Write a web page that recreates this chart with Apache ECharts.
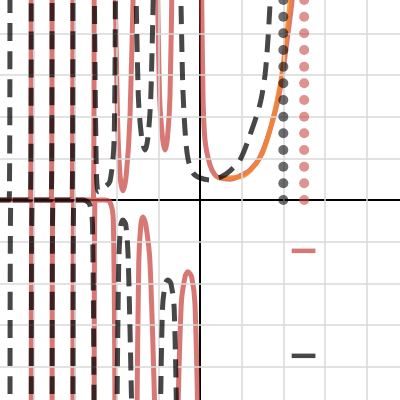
<!DOCTYPE html>
<html><head><meta charset="utf-8">
<script src="https://cdn.jsdelivr.net/npm/echarts@6/dist/echarts.min.js"></script>
<style>html,body{margin:0;padding:0;background:#fff}#c{width:400px;height:400px}</style>
</head><body><div id="c"></div>
<script>
const gridTicks = [-4,-3,-2,-1,1,2,3,4];
const redPoles = [-4.05,-3.55,-3.05,-2.54];
const blackPoles = [-4.56,-4.05,-3.55,-3.05];
const redTail = [[-2.3,0],[-2.16,-0.05],[-2.08,-0.5],[-2.04,-6],null,
 [-2.05,6],[-1.98,2],[-1.92,0.6],[-1.85,0.22],[-1.77,0.6],[-1.68,2],[-1.58,6],null,
 [-1.52,-6],[-1.47,-1.5],[-1.42,-0.6],[-1.37,-0.41],[-1.3,-0.6],[-1.2,-1.5],[-1.06,-6],null,
 [-1.03,6],[-0.97,2.5],[-0.9,1.5],[-0.84,1.2],[-0.78,1.5],[-0.72,2.5],[-0.66,6],null,
 [-0.55,-6],[-0.45,-2.5],[-0.36,-1.85],[-0.29,-1.72],[-0.2,-1.85],[-0.12,-2.5],[-0.04,-6],null,
 [0.03,6],[0.07,2.6],[0.12,1.44],[0.24,0.84],[0.36,0.6],[0.48,0.53],[0.72,0.5],[0.96,0.58],[1.2,0.72],[1.44,1.03],[1.68,1.68],[1.92,2.64],[2.09,3.84],[2.21,4.8],[2.25,5.5]];
const blackTail = [[-2.8,0],[-2.65,-0.1],[-2.58,-0.6],[-2.54,-6],null,
 [-2.54,6],[-2.5,1.5],[-2.44,0.2],[-2.3,0.3],[-2.16,0.45],[-2.06,1.5],[-2.03,6],null,
 [-2.0,-6],[-1.95,-1.5],[-1.9,-0.6],[-1.85,-0.48],[-1.78,-0.6],[-1.72,-1.5],[-1.62,-6],null,
 [-1.55,6],[-1.48,2.5],[-1.4,1.5],[-1.32,1.2],[-1.25,1.5],[-1.18,2.5],[-1.1,6],null,
 [-0.96,-6],[-0.9,-2.6],[-0.83,-2.0],[-0.77,-1.92],[-0.7,-2.0],[-0.62,-2.6],[-0.55,-6],null,
 [-0.48,6],[-0.44,3.9],[-0.41,2.64],[-0.36,1.68],[-0.29,1.0],[-0.17,0.65],[0,0.53],[0.24,0.48],[0.5,0.55],[0.72,0.7],[0.96,0.96],[1.2,1.56],[1.44,2.3],[1.56,3.0],[1.63,3.84],[1.68,4.7],[1.72,5.5]];
const orangeLine = [[0.41,0.53],[0.96,0.55],[1.44,1.0],[1.68,1.68],[1.92,2.76],[2.06,3.84],[2.16,4.8]];
const dotYs = [0,0.4,0.8,1.2,1.6,2.0,2.4,2.8,3.2,3.6,4.0,4.4,4.8];
const blackDotX = 2, redDotX = 2.5;
const redKey = [[2.2,-1.22],[2.77,-1.22]];
const blackKey = [[2.2,-3.74],[2.77,-3.74]];

function poles(list){const out=[[-4.8,0]];list.forEach(p=>{out.push([p-0.02,0],[p,6],null,[p,-6],[p+0.02,0]);});return out;}
const redData = poles(redPoles).concat(redTail);
const blackData = poles(blackPoles).concat(blackTail);
const RED='rgba(199,68,64,0.72)', BLK='rgba(0,0,0,0.72)';
const gl = {color:'#d8d8d8',width:1.5,type:'solid'};
const chart = echarts.init(document.getElementById('c'));
chart.setOption({
 animation:false,
 grid:{left:0,right:0,top:0,bottom:0},
 xAxis:{type:'value',min:-4.8,max:4.8,axisLabel:{show:false},axisTick:{show:false},splitLine:{show:false},axisLine:{onZero:true,lineStyle:{color:'#000',width:2}}},
 yAxis:{type:'value',min:-4.8,max:4.8,axisLabel:{show:false},axisTick:{show:false},splitLine:{show:false},axisLine:{onZero:true,lineStyle:{color:'#000',width:2}}},
 series:[
  {type:'line',data:[],silent:true,markLine:{silent:true,symbol:'none',label:{show:false},lineStyle:gl,
    data:gridTicks.map(v=>({xAxis:v})).concat(gridTicks.map(v=>({yAxis:v})))}},
  {type:'line',data:redData,showSymbol:false,smooth:0.3,connectNulls:false,lineStyle:{color:RED,width:5},z:3},
  {type:'line',data:orangeLine,showSymbol:false,smooth:0.3,lineStyle:{color:'rgba(245,135,45,0.8)',width:4.5},z:4},
  {type:'line',data:blackData,showSymbol:false,smooth:0.3,connectNulls:false,lineStyle:{color:BLK,width:5,type:[18,10]},z:5},
  {type:'scatter',data:dotYs.map(y=>[blackDotX,y]),symbolSize:10,itemStyle:{color:BLK},z:6},
  {type:'scatter',data:dotYs.map(y=>[redDotX,y]),symbolSize:10,itemStyle:{color:RED},z:6},
  {type:'line',data:redKey,showSymbol:false,lineStyle:{color:RED,width:4.5},z:6},
  {type:'line',data:blackKey,showSymbol:false,lineStyle:{color:BLK,width:4.5},z:6}
 ]
});
</script></body></html>
